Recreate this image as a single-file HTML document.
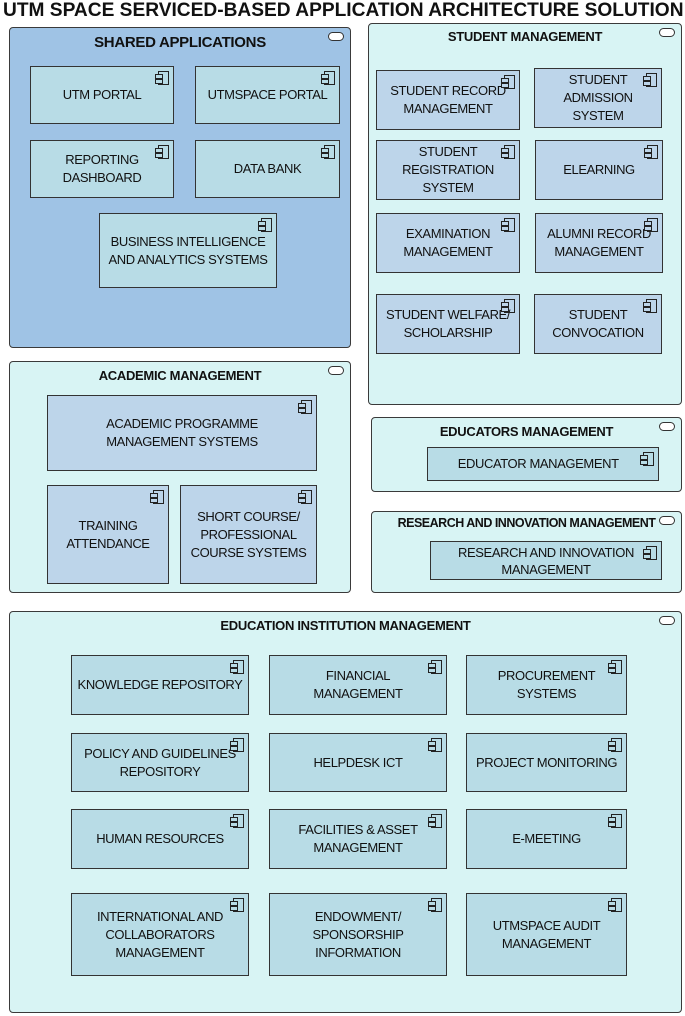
<!DOCTYPE html>
<html><head><meta charset="utf-8"><style>
*{box-sizing:border-box;margin:0;padding:0}
body{width:685px;height:1016px;background:#fff;position:relative;font-family:"Liberation Sans",sans-serif;overflow:hidden}
.c{position:absolute;border:1.3px solid #3a3a3a;border-radius:4px;background:#d8f4f4}
.c .t{position:absolute;left:0;right:0;text-align:center;font-weight:bold;font-size:13px;color:#111;white-space:nowrap;letter-spacing:-0.3px}
.c .o{position:absolute;right:6px;top:4px;width:16px;height:9px;border:1.2px solid #333;border-radius:5px;background:#fff}
.b{position:absolute;border:1.2px solid #333;background:#b8dce6;display:flex;align-items:center;justify-content:center;text-align:center;font-size:13px;letter-spacing:-0.4px;color:#111;line-height:18px;padding:0 2px;white-space:nowrap}
.b.l{background:#bdd5ea}
.b i{position:absolute;right:4px;top:4px;width:11px;height:14px;border:1.2px solid #222;background:transparent}
.b i:before,.b i:after{content:"";position:absolute;left:-4px;width:6px;height:3px;border:1.2px solid #222;background:#b8dce6}
.b i:before{top:2px}.b i:after{top:7px}
.b.l i:before,.b.l i:after{background:#bdd5ea}
</style></head><body>
<div style="position:absolute;left:3px;top:-1px;font-weight:bold;font-size:19.5px;color:#111;white-space:nowrap;transform:scaleX(0.982);transform-origin:0 0">UTM SPACE SERVICED-BASED APPLICATION ARCHITECTURE SOLUTION</div>

<div class="c" style="left:9px;top:27px;width:342px;height:321px;background:#9fc3e5"><div class="t" style="top:6px;font-size:15px">SHARED APPLICATIONS</div><div class="o"></div></div>
<div class="b" style="left:30px;top:66px;width:144px;height:58px"><i></i>UTM PORTAL</div>
<div class="b" style="left:195px;top:66px;width:145px;height:58px"><i></i>UTMSPACE PORTAL</div>
<div class="b" style="left:30px;top:140px;width:144px;height:58px"><i></i>REPORTING<br>DASHBOARD</div>
<div class="b" style="left:195px;top:140px;width:145px;height:58px"><i></i>DATA BANK</div>
<div class="b" style="left:99px;top:213px;width:178px;height:75px"><i></i>BUSINESS INTELLIGENCE<br>AND ANALYTICS SYSTEMS</div>

<div class="c" style="left:368px;top:23px;width:314px;height:382px"><div class="t" style="top:5px">STUDENT MANAGEMENT</div><div class="o"></div></div>
<div class="b l" style="left:376px;top:70px;width:144px;height:60px"><i></i>STUDENT RECORD<br>MANAGEMENT</div>
<div class="b l" style="left:534px;top:68px;width:128px;height:60px"><i></i>STUDENT<br>ADMISSION<br>SYSTEM</div>
<div class="b l" style="left:376px;top:140px;width:144px;height:60px"><i></i>STUDENT<br>REGISTRATION<br>SYSTEM</div>
<div class="b l" style="left:535px;top:140px;width:128px;height:60px"><i></i>ELEARNING</div>
<div class="b l" style="left:376px;top:213px;width:144px;height:60px"><i></i>EXAMINATION<br>MANAGEMENT</div>
<div class="b l" style="left:535px;top:213px;width:128px;height:60px"><i></i>ALUMNI RECORD<br>MANAGEMENT</div>
<div class="b l" style="left:376px;top:294px;width:144px;height:60px"><i></i>STUDENT WELFARE/<br>SCHOLARSHIP</div>
<div class="b l" style="left:534px;top:294px;width:128px;height:60px"><i></i>STUDENT<br>CONVOCATION</div>

<div class="c" style="left:9px;top:361px;width:342px;height:232px"><div class="t" style="top:6px">ACADEMIC MANAGEMENT</div><div class="o"></div></div>
<div class="b l" style="left:47px;top:395px;width:270px;height:76px"><i></i>ACADEMIC PROGRAMME<br>MANAGEMENT SYSTEMS</div>
<div class="b l" style="left:47px;top:485px;width:122px;height:99px"><i></i>TRAINING<br>ATTENDANCE</div>
<div class="b l" style="left:180px;top:485px;width:137px;height:99px"><i></i>SHORT COURSE/<br>PROFESSIONAL<br>COURSE SYSTEMS</div>

<div class="c" style="left:371px;top:417px;width:311px;height:75px"><div class="t" style="top:6px">EDUCATORS MANAGEMENT</div><div class="o"></div></div>
<div class="b" style="left:427px;top:447px;width:232px;height:34px"><i></i>EDUCATOR MANAGEMENT&nbsp;&nbsp;&nbsp;</div>

<div class="c" style="left:371px;top:511px;width:311px;height:82px"><div class="t" style="top:4px;font-size:12.5px;letter-spacing:-0.5px">RESEARCH AND INNOVATION MANAGEMENT</div><div class="o"></div></div>
<div class="b" style="left:430px;top:541px;width:232px;height:39px;line-height:17px"><i></i>RESEARCH AND INNOVATION<br>MANAGEMENT</div>

<div class="c" style="left:9px;top:611px;width:673px;height:402px"><div class="t" style="top:6px">EDUCATION INSTITUTION MANAGEMENT</div><div class="o"></div></div>
<div class="b" style="left:71px;top:655px;width:178px;height:60px"><i></i>KNOWLEDGE REPOSITORY</div>
<div class="b" style="left:269px;top:655px;width:178px;height:60px"><i></i>FINANCIAL<br>MANAGEMENT</div>
<div class="b" style="left:466px;top:655px;width:161px;height:60px"><i></i>PROCUREMENT<br>SYSTEMS</div>
<div class="b" style="left:71px;top:733px;width:178px;height:59px"><i></i>POLICY AND GUIDELINES<br>REPOSITORY</div>
<div class="b" style="left:269px;top:733px;width:178px;height:59px"><i></i>HELPDESK ICT</div>
<div class="b" style="left:466px;top:733px;width:161px;height:59px"><i></i>PROJECT MONITORING</div>
<div class="b" style="left:71px;top:809px;width:178px;height:60px"><i></i>HUMAN RESOURCES</div>
<div class="b" style="left:269px;top:809px;width:178px;height:60px"><i></i>FACILITIES &amp; ASSET<br>MANAGEMENT</div>
<div class="b" style="left:466px;top:809px;width:161px;height:60px"><i></i>E-MEETING</div>
<div class="b" style="left:71px;top:893px;width:178px;height:83px"><i></i>INTERNATIONAL AND<br>COLLABORATORS<br>MANAGEMENT</div>
<div class="b" style="left:269px;top:893px;width:178px;height:83px"><i></i>ENDOWMENT/<br>SPONSORSHIP<br>INFORMATION</div>
<div class="b" style="left:466px;top:893px;width:161px;height:83px"><i></i>UTMSPACE AUDIT<br>MANAGEMENT</div>
</body></html>
